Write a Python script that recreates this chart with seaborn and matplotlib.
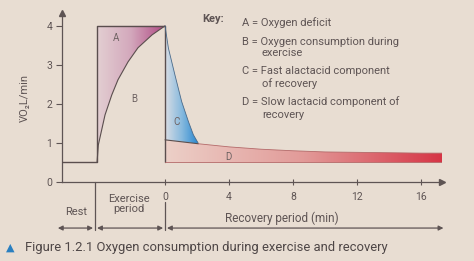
import numpy as np
import pandas as pd
import seaborn as sns
import matplotlib.pyplot as plt
from matplotlib.colors import LinearSegmentedColormap

# values (x: minutes, recovery starts at 0; y: VO2 L/min)
rest_level = 0.5
peak_level = 4.0
exercise_start = -4.25
axis_left = -6.44

uptake_t = [-4.25, -4.17, -3.75, -3.33, -2.94, -2.31, -1.69, -0.81, 0.0]
uptake_v = [0.5, 0.95, 1.72, 2.23, 2.62, 3.08, 3.44, 3.77, 4.0]

fast_t = [0.0, 0.21, 0.62, 1.04, 1.46, 1.77, 2.08]
fast_v = [4.0, 3.43, 2.74, 2.06, 1.55, 1.21, 0.99]

slow_t = [0.0, 2.08, 4, 6, 8, 10, 12, 14, 16, 17.4]
slow_v = [1.08, 0.98, 0.90, 0.84, 0.80, 0.77, 0.76, 0.75, 0.74, 0.74]

y_ticks = [0, 1, 2, 3, 4]
x_ticks = [0, 4, 8, 12, 16]

key_lines = [
    ("A = Oxygen deficit", None),
    ("B = Oxygen consumption during", "exercise"),
    ("C = Fast alactacid component", "of recovery"),
    ("D = Slow lactacid component of", "recovery"),
]

bg = "#e8ddd2"
ink = "#5e5454"
line_c = "#5a4e4e"

sns.set_theme(style="white", rc={"figure.facecolor": bg, "axes.facecolor": bg})
plt.rcParams["font.family"] = ["Roboto", "DejaVu Sans"]

fig = plt.figure(figsize=(4.74, 2.61), dpi=100)
ax = fig.add_axes([62 / 474, 1 - 182 / 261, 380 / 474, 169 / 261])
ax.set_xlim(axis_left, 17.31)
ax.set_ylim(0, 4.33)


def gradient_fill(xs, ys, colors, xr):
    poly = ax.fill(xs, ys, facecolor="none", edgecolor="none")[0]
    cmap = LinearSegmentedColormap.from_list("g", colors)
    grad = np.linspace(0, 1, 256).reshape(1, -1)
    im = ax.imshow(grad, cmap=cmap, aspect="auto", extent=[xr[0], xr[1], 0, 4.33],
                   origin="lower", zorder=1)
    im.set_clip_path(poly)


# A: oxygen deficit (between uptake curve and steady state)
gradient_fill(uptake_t + [0.0, exercise_start], uptake_v + [peak_level, peak_level],
              ["#e3cfd2", "#d3a8bc", "#b04a84"], (exercise_start, 0))
# C: fast component
gradient_fill(fast_t + slow_t[1::-1], fast_v + slow_v[1::-1],
              ["#d9dde4", "#86b9de", "#2585cf"], (0, 2.1))
# D: slow component
gradient_fill(slow_t + [slow_t[-1], 0], slow_v + [rest_level, rest_level],
              ["#ecd0c8", "#e29a98", "#d63445"], (0, slow_t[-1]))

# outline of the exercise block
box = pd.DataFrame({
    "t": [axis_left, exercise_start, exercise_start, 0, 0, slow_t[-1]],
    "v": [rest_level, rest_level, peak_level, peak_level, rest_level, rest_level],
})
ax.plot(box["t"][:5], box["v"][:5], color=line_c, lw=1.0, zorder=3)
ax.plot(box["t"][4:], box["v"][4:], color="#b46a6a", lw=0.6, zorder=3)

sns.lineplot(x=uptake_t, y=uptake_v, sort=False, color=line_c, lw=0.8, ax=ax, zorder=3)
sns.lineplot(x=fast_t, y=fast_v, sort=False, color="#4a6a8a", lw=0.6, ax=ax, zorder=3)
sns.lineplot(x=slow_t[:2], y=slow_v[:2], sort=False, color=line_c, lw=0.8, ax=ax, zorder=3)
sns.lineplot(x=slow_t[1:], y=slow_v[1:], sort=False, color="#b46a6a", lw=0.6, ax=ax, zorder=3)

# region letters
for lab, x, y in [("A", -3.06, 3.69), ("B", -1.94, 2.13), ("C", 0.69, 1.54), ("D", 3.94, 0.64)]:
    ax.text(x, y, lab, ha="center", va="center", fontsize=7, color="#6e6262", zorder=4)

# axes
for s in ["top", "right"]:
    ax.spines[s].set_visible(False)
for s in ["left", "bottom"]:
    ax.spines[s].set_color(ink)
    ax.spines[s].set_linewidth(0.9)
ax.set_yticks(y_ticks)
ax.set_xticks(x_ticks)
ax.tick_params(axis="y", direction="out", length=4, width=0.8, color=ink,
               labelsize=7.5, labelcolor=ink, pad=3, left=True)
ax.tick_params(axis="x", direction="inout", length=5, width=0.8, color=ink,
               labelsize=7.5, labelcolor=ink, pad=5, bottom=True)
ax.plot(1, 0, ">", color=ink, ms=5, transform=ax.transAxes, clip_on=False)
ax.plot(0, 1, "^", color=ink, ms=5, transform=ax.transAxes, clip_on=False)
ax.set_ylabel("V\u0307O\u2082L/min", fontsize=8, color=ink, labelpad=12)
ax.set_xlabel("")

# key
ax.text(2.31, 4.18, "Key:", fontsize=8, fontweight="bold", color=ink, va="center")
key_y = [(4.08, None), (3.59, 3.31), (2.85, 2.51), (2.05, 1.72)]
for (first, second), (y1, y2) in zip(key_lines, key_y):
    ax.text(4.81, y1, first, fontsize=8, color=ink, va="center")
    if second:
        ax.text(6.06, y2, second, fontsize=8, color=ink, va="center")

# period annotations under the time axis
arrow_y = -1.18
ax.plot([-4.375, -4.375], [0, -1.23], color=ink, lw=0.9, clip_on=False)
ax.plot([0, 0], [-0.51, -1.23], color=ink, lw=0.9, clip_on=False)
for x0, x1 in [(-6.7, -4.5), (-4.25, -0.12), (0.12, 17.4)]:
    ax.annotate("", xy=(x1, arrow_y), xytext=(x0, arrow_y), annotation_clip=False,
                arrowprops=dict(arrowstyle="<|-|>", color=ink, lw=0.9, mutation_scale=7,
                                shrinkA=0, shrinkB=0))
ax.text(-5.56, -0.77, "Rest", ha="center", va="center", fontsize=8, color=ink)
ax.text(-2.25, -0.56, "Exercise\nperiod", ha="center", va="center", fontsize=8,
        color=ink, linespacing=1.0)
ax.text(7.3, -0.92, "Recovery period (min)", ha="center", va="center", fontsize=8.5, color=ink)

# caption
fig.text(10 / 474, 1 - 248 / 261, "\u25b2", fontsize=8, color="#2a7fc0", ha="center", va="center")
fig.text(25 / 474, 1 - 248 / 261, "Figure 1.2.1 Oxygen consumption during exercise and recovery",
         fontsize=9.4, color="#4e4646", va="center")

fig.savefig("out.png", dpi=100, facecolor=bg)
